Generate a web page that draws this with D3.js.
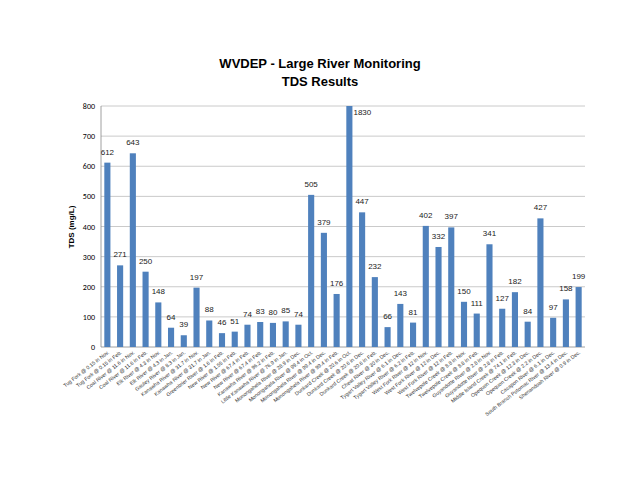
<!DOCTYPE html><html><head><meta charset="utf-8"><script src="https://cdn.jsdelivr.net/npm/d3@7"></script>
<style>body{margin:0;background:#fff}</style></head><body><svg width="638" height="493"></svg>
<script>
const categories=["Tug Fork @ 0.15 in Nov.","Tug Fork @ 0.15 in Feb.","Coal River @ 11.6 in Nov.","Coal River @ 11.6 in Feb.","Elk River @ 4.3 in Nov.","Elk River @ 4.3 in Jan.","Gauley River @ 8.3 in Jan.","Kanawha River @ 31.7 in Nov.","Kanawha River @ 31.7 in Jan.","Greenbrier River @ 1.6 in Feb.","New River @ 1.55 in Feb.","New River @ 67.4 in Feb.","New River @ 67.4 in Feb.","Kanawha River @ 96.2 in Feb.","Little Kanawha River @ 76.9 in Jan.","Monongahela River @ 28.9 in Dec.","Monongahela River @ 99.4 in Oct.","Monongahela River @ 99.4 in Dec.","Monongahela River @ 99.4 in Feb.","Dunkard Creek @ 20.6 in Oct.","Dunkard Creek @ 20.6 in Dec.","Dunkard Creek @ 20.6 in Feb.","Cheat River @ 30 in Dec.","Tygart Valley River @ 6.1 in Dec.","Tygart Valley River @ 6.2 in Feb.","West Fork River @ 12 in Nov.","West Fork River @ 12 in Dec.","West Fork River @ 12 in Feb.","Twelvepole Creek @ 8.8 in Nov.","Twelvepole Creek @ 8.8 in Feb.","Guyandotte River @ 2.8 in Nov.","Guyandotte River @ 2.8 in Feb.","Middle Island Creek @ 74.1 in Feb.","Opequon Creek @ 12.3 in Dec.","Opequon Creek @ 2.2 in Dec.","Cacapon River @ 6.1 in Dec.","South Branch Potomac River @ 13.4 in Dec.","Shenandoah River @ 0.9 in Dec."];
const values=[612,271,643,250,148,64,39,197,88,46,51,74,83,80,85,74,505,379,176,1830,447,232,66,143,81,402,332,397,150,111,341,127,182,84,427,97,158,199];
const yTicks=[0,100,200,300,400,500,600,700,800];
const svg=d3.select("svg"),L=101,R=585,T=106,B=347;
const x=d3.scaleBand().domain(d3.range(categories.length)).range([L,R]).paddingInner(0.52).paddingOuter(0.26);
const y=d3.scaleLinear().domain([0,800]).range([B,T]);
svg.append("g").selectAll("line").data(yTicks).join("line").attr("x1",L).attr("x2",R).attr("y1",d=>y(d)).attr("y2",d=>y(d)).attr("stroke",d=>d?"#bdbdbd":"#888").attr("stroke-width",0.8);
svg.append("line").attr("x1",L).attr("x2",L).attr("y1",T).attr("y2",B).attr("stroke","#888").attr("stroke-width",0.8);
svg.append("g").selectAll("text").data(yTicks).join("text").attr("x",L-6).attr("y",d=>y(d)+3).attr("text-anchor","end").attr("font-family","Carlito,Liberation Sans,Arial").attr("font-size",8).text(d=>d);
svg.append("g").selectAll("rect").data(values).join("rect").attr("x",(d,i)=>x(i)).attr("width",x.bandwidth()).attr("y",d=>y(Math.min(d,800))).attr("height",d=>B-y(Math.min(d,800))).attr("fill","#4f81bd");
svg.append("g").selectAll("text").data(values).join("text")
 .attr("x",(d,i)=>x(i)+x.bandwidth()/2+(d>800?13:0)).attr("y",d=>d>800?y(770):y(d)-8)
 .attr("text-anchor","middle").attr("font-family","Liberation Sans,Arial").attr("font-size",8).attr("fill","#222").text(d=>d);
svg.append("g").selectAll("text").data(categories).join("text")
 .attr("transform",(d,i)=>`translate(${x(i)+x.bandwidth()/2+2},${B+6}) rotate(-38)`)
 .attr("text-anchor","end").attr("font-family","Liberation Sans,Arial").attr("font-size",5.2).attr("fill","#333").text(d=>d);
svg.append("text").attr("transform","translate(74,227) rotate(-90)").attr("text-anchor","middle").attr("font-family","Liberation Sans,Arial").attr("font-weight","bold").attr("font-size",8).text("TDS (mg/L)");
svg.append("text").attr("x",320).attr("y",68).attr("text-anchor","middle").attr("font-family","Liberation Sans,Arial").attr("font-weight","bold").attr("font-size",13).text("WVDEP - Large River Monitoring");
svg.append("text").attr("x",320).attr("y",86).attr("text-anchor","middle").attr("font-family","Liberation Sans,Arial").attr("font-weight","bold").attr("font-size",13).text("TDS Results");
</script></body></html>
